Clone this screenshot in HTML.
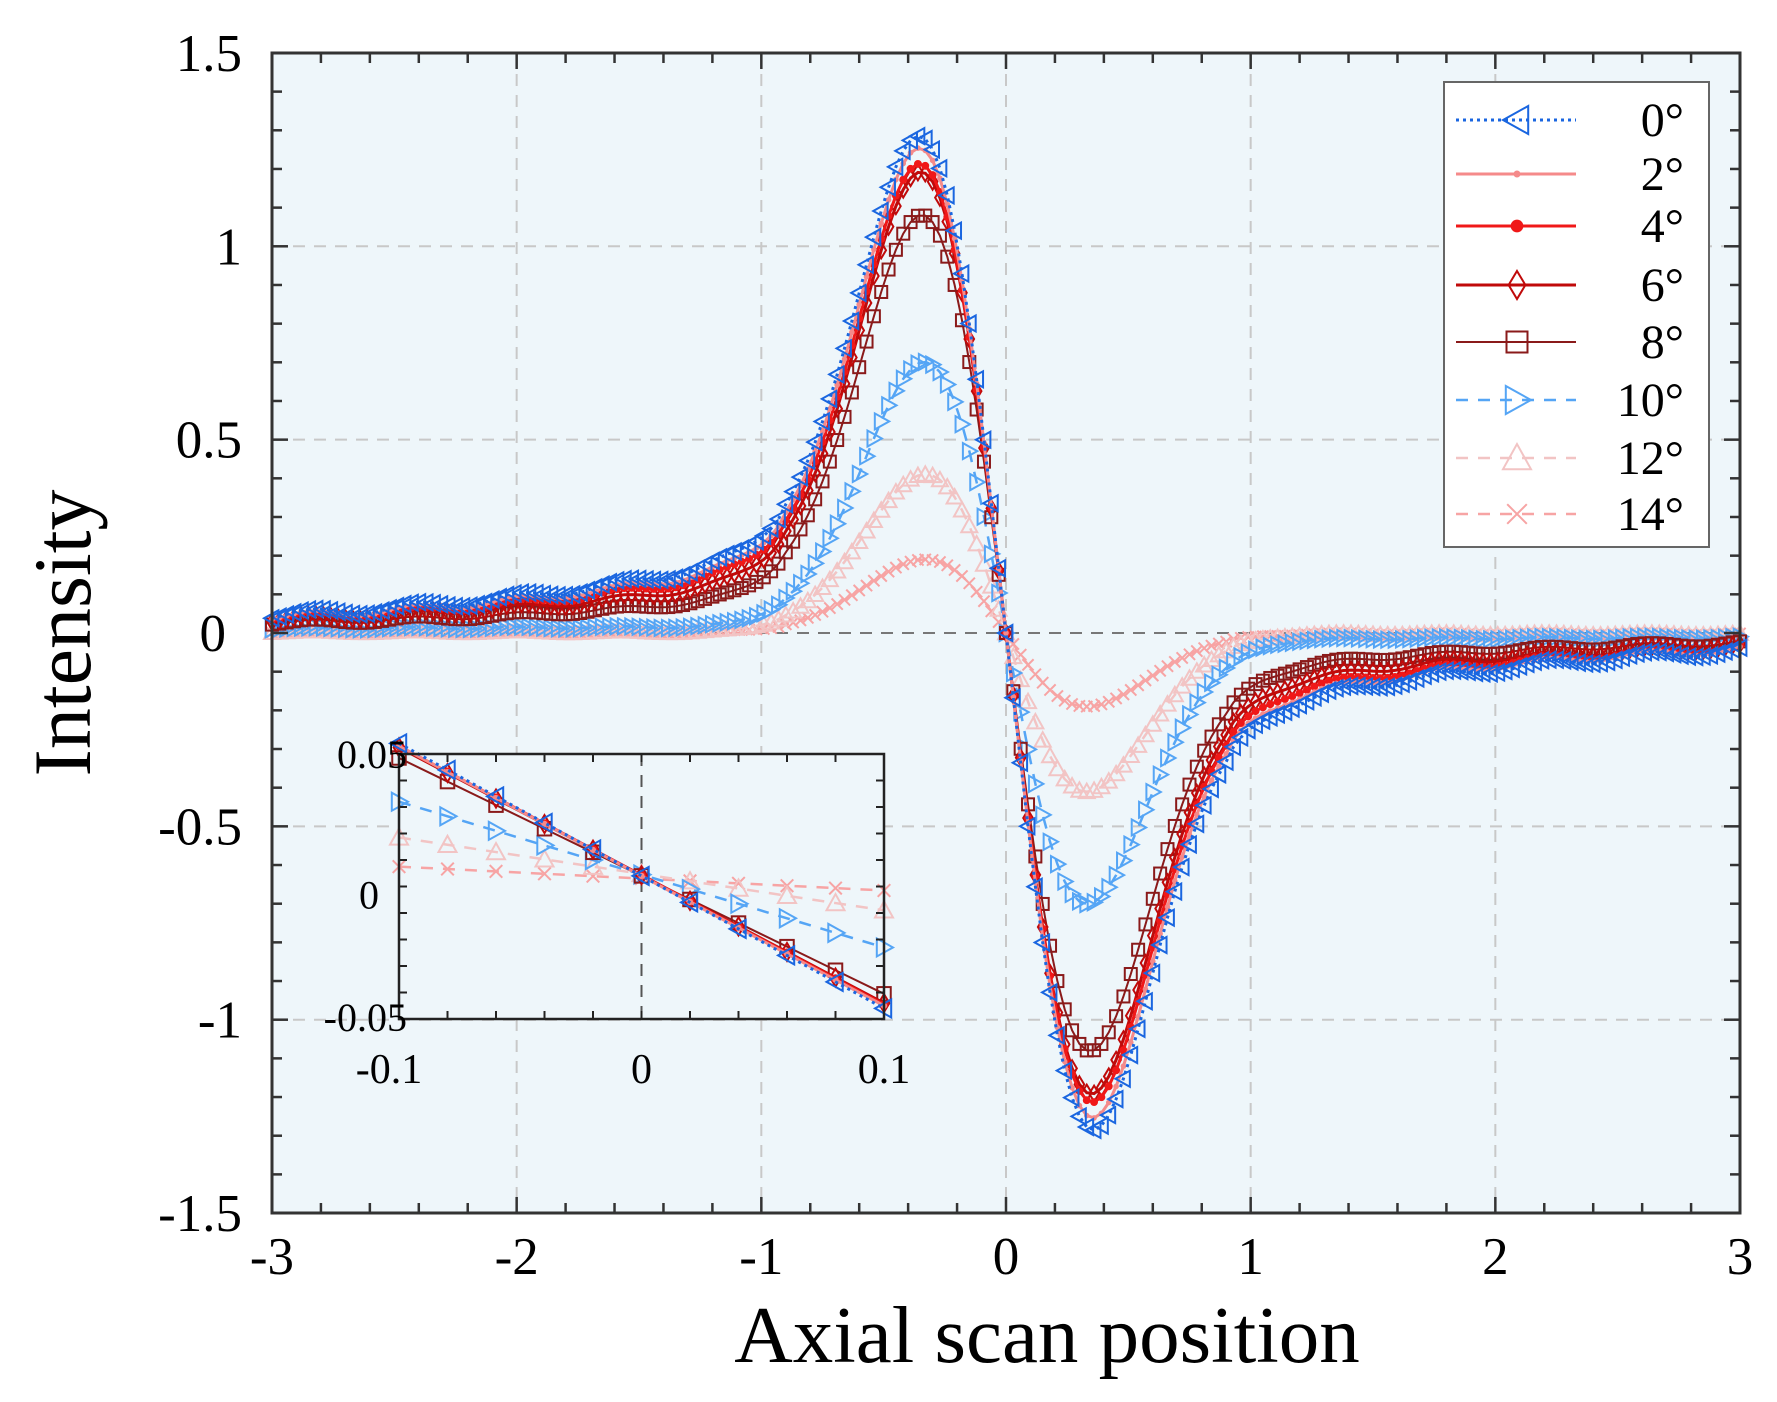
<!DOCTYPE html>
<html><head><meta charset="utf-8">
<style>
html,body{margin:0;padding:0;background:#fff;}
svg{display:block;font-family:"Liberation Serif",serif;}
</style></head>
<body>
<svg id="s" width="1777" height="1402" viewBox="0 0 1777 1402" xmlns="http://www.w3.org/2000/svg"></svg>
<script>
const S=document.getElementById('s');
let out=[];
const L=272,R=1740,T=53,B=1213;
const X=x=>1006+x*244.67, Y=y=>633-y*386.7;
out.push(`<rect x="${L}" y="${T}" width="${R-L}" height="${B-T}" fill="#eef6fa"/>`);
for(let gx=-2;gx<=2;gx++){out.push(`<line x1="${X(gx)}" y1="${T}" x2="${X(gx)}" y2="${B}" stroke="#c8c8c8" stroke-width="2" stroke-dasharray="12,9"/>`);}
for(const gy of [1,0.5,-0.5,-1]){out.push(`<line x1="${L}" y1="${Y(gy)}" x2="${R}" y2="${Y(gy)}" stroke="#c8c8c8" stroke-width="2" stroke-dasharray="12,9"/>`);}
out.push(`<line x1="${L}" y1="${Y(0)}" x2="${R}" y2="${Y(0)}" stroke="#777" stroke-width="2" stroke-dasharray="12,9"/>`);
const ser=[
 {P:1.29,c:0.44,col:"#1a66e0",m:"tl",dash:"3,4",w:3},
 {P:1.26,c:0.40,col:"#f58a8a",m:"star",dash:"",w:3},
 {P:1.22,c:0.36,col:"#f01818",m:"dot",dash:"",w:3},
 {P:1.20,c:0.30,col:"#c00a0a",m:"dia",dash:"",w:3},
 {P:1.09,c:0.20,col:"#8a1a1a",m:"sq",dash:"",w:2},
 {P:0.71,c:0.02,col:"#55a5f5",m:"tr",dash:"12,10",w:2.5},
 {P:0.41,c:0.0,col:"#f2c4c4",m:"tu",dash:"12,10",w:2.5},
 {P:0.19,c:0.0,col:"#f7a4a4",m:"x",dash:"12,10",w:2.5},
];
ser.forEach(p=>{p.Pe=p.P-0.4*p.c-(p.c>0?0.01:0);});
const s0=0.33;
function f(p,x){
 let main=p.Pe*(-x/s0)*Math.exp(0.5-x*x/(2*s0*s0));
 let sh=-Math.sign(x)*p.c*Math.exp(-Math.abs(x)/1.2)*(1-Math.exp(-x*x/0.15));
 let rip=0.008*(p.c/0.44+0.3)*Math.sin(2*Math.PI*x/0.42)*(Math.abs(x)>0.9?1:0);
 let off=0.02*(1-Math.exp(-x*x));
 return main+sh+rip+(x<0?off*0.5:-off*0.5)*(p.c>0?1:0.3);
}
function marker(m,x,y,col,sz){
 const s=sz;
 switch(m){
  case"tl":return `<polygon points="${x-s},${y} ${x+s*0.8},${y-s} ${x+s*0.8},${y+s}" fill="none" stroke="${col}" stroke-width="2"/>`;
  case"tr":return `<polygon points="${x+s},${y} ${x-s*0.8},${y-s} ${x-s*0.8},${y+s}" fill="none" stroke="${col}" stroke-width="2"/>`;
  case"tu":return `<polygon points="${x},${y-s} ${x-s},${y+s*0.8} ${x+s},${y+s*0.8}" fill="none" stroke="${col}" stroke-width="2"/>`;
  case"star":return `<circle cx="${x}" cy="${y}" r="${s*0.35}" fill="${col}"/>`;
  case"dot":return `<circle cx="${x}" cy="${y}" r="${s*0.4}" fill="${col}" stroke="${col}" stroke-width="1.5"/>`;
  case"dia":return `<polygon points="${x},${y-s} ${x+s*0.6},${y} ${x},${y+s} ${x-s*0.6},${y}" fill="none" stroke="${col}" stroke-width="2"/>`;
  case"sq":return `<rect x="${x-s*0.75}" y="${y-s*0.75}" width="${s*1.5}" height="${s*1.5}" fill="none" stroke="${col}" stroke-width="2"/>`;
  case"x":return `<path d="M${x-s*0.7},${y-s*0.7}L${x+s*0.7},${y+s*0.7}M${x-s*0.7},${y+s*0.7}L${x+s*0.7},${y-s*0.7}" stroke="${col}" stroke-width="2"/>`;
 }
}
for(let i=ser.length-1;i>=0;i--){
 const p=ser[i];let pts=[];let mk=[];
 for(let k=0;k<=200;k++){const x=-3+k*0.03;const y=f(p,x);pts.push(`${X(x).toFixed(1)},${Y(y).toFixed(1)}`);mk.push(marker(p.m,X(x),Y(y),p.col,8));}
 out.push(`<polyline points="${pts.join(' ')}" fill="none" stroke="${p.col}" stroke-width="${p.w}" ${p.dash?`stroke-dasharray="${p.dash}"`:''}/>`);
 out.push(mk.join(''));
}
out.push(`<rect x="${L}" y="${T}" width="${R-L}" height="${B-T}" fill="none" stroke="#333" stroke-width="3"/>`);
for(let k=-15;k<=15;k++){const x=X(k*0.2);const len=(k%5==0)?16:10;
 out.push(`<line x1="${x}" y1="${B}" x2="${x}" y2="${B-len}" stroke="#333" stroke-width="2.5"/><line x1="${x}" y1="${T}" x2="${x}" y2="${T+len}" stroke="#333" stroke-width="2.5"/>`);}
for(let k=-15;k<=15;k++){const y=Y(k*0.1);const len=(k%5==0)?16:10;
 out.push(`<line x1="${L}" y1="${y}" x2="${L+len}" y2="${y}" stroke="#333" stroke-width="2.5"/><line x1="${R}" y1="${y}" x2="${R-len}" y2="${y}" stroke="#333" stroke-width="2.5"/>`);}
for(let k=-3;k<=3;k++){out.push(`<text x="${X(k)}" y="1274" font-size="53" text-anchor="middle">${k}</text>`);}
const yl=[[1.5,"1.5"],[1,"1"],[0.5,"0.5"],[0,"0"],[-0.5,"-0.5"],[-1,"-1"],[-1.5,"-1.5"]];
for(const [v,t] of yl){out.push(`<text x="${v==0?226:242}" y="${Y(v)+18}" font-size="53" text-anchor="end">${t}</text>`);}
out.push(`<text x="1047" y="1362" font-size="81" text-anchor="middle">Axial scan position</text>`);
out.push(`<text transform="translate(90,633) rotate(-90)" font-size="82" text-anchor="middle">Intensity</text>`);
const IL=399,IR=884,IT=754,IB=1019;
const IX=x=>IL+(x+0.1)/0.2*(IR-IL), IY=y=>IT+(0.05-y)/0.1*(IB-IT);
out.push(`<rect x="${IL}" y="${IT}" width="${IR-IL}" height="${IB-IT}" fill="#eef6fa"/>`);
out.push(`<line x1="${IX(0)}" y1="${IT}" x2="${IX(0)}" y2="${IB}" stroke="#555" stroke-width="2" stroke-dasharray="12,9"/>`);
const ins=[[0.05,-0.05],[0.049,-0.049],[0.049,-0.0485],[0.0485,-0.048],[0.0445,-0.0445],[0.028,-0.027],[0.0145,-0.013],[0.0035,-0.0055]];
for(let i=ins.length-1;i>=0;i--){const p=ser[i];const [a,b]=ins[i];let pts=[],mk=[];
 for(let k=0;k<=10;k++){const x=-0.1+k*0.02;const t=k/10;const y=a+(b-a)*t+0.004;pts.push(`${IX(x)},${IY(y)}`);mk.push(marker(p.m,IX(x),IY(y),p.col,9));}
 out.push(`<polyline points="${pts.join(' ')}" fill="none" stroke="${p.col}" stroke-width="${p.w}" ${p.dash?`stroke-dasharray="${p.dash}"`:''}/>`+mk.join(''));}
out.push(`<rect x="${IL}" y="${IT}" width="${IR-IL}" height="${IB-IT}" fill="none" stroke="#222" stroke-width="2.5"/>`);
for(let k=0;k<=10;k++){const x=IX(-0.1+k*0.02);out.push(`<line x1="${x}" y1="${IB}" x2="${x}" y2="${IB-8}" stroke="#222" stroke-width="2"/><line x1="${x}" y1="${IT}" x2="${x}" y2="${IT+8}" stroke="#222" stroke-width="2"/>`);}
for(let k=0;k<=10;k++){const y=IY(-0.05+k*0.01);out.push(`<line x1="${IL}" y1="${y}" x2="${IL+8}" y2="${y}" stroke="#222" stroke-width="2"/><line x1="${IR}" y1="${y}" x2="${IR-8}" y2="${y}" stroke="#222" stroke-width="2"/>`);}
out.push(`<text x="${IX(-0.1)-10}" y="1083" font-size="42" text-anchor="middle">-0.1</text><text x="${IX(0)}" y="1083" font-size="42" text-anchor="middle">0</text><text x="${IX(0.1)}" y="1083" font-size="42" text-anchor="middle">0.1</text>`);
out.push(`<text x="${IL+8}" y="${IT+14}" font-size="40" text-anchor="end">0.05</text><text x="${IL-20}" y="${IY(0)+22}" font-size="40" text-anchor="end">0</text><text x="${IL+8}" y="${IB+12}" font-size="40" text-anchor="end">-0.05</text>`);
out.push(`<rect x="1444" y="82" width="265" height="465" fill="#fff" stroke="#666" stroke-width="2"/>`);
const ly=[120,174,226,285,342,400,458,514];const lab=["0°","2°","4°","6°","8°","10°","12°","14°"];
for(let i=0;i<8;i++){const p=ser[i];const y=ly[i];
 out.push(`<line x1="1456" y1="${y}" x2="1576" y2="${y}" stroke="${p.col}" stroke-width="${p.w}" ${p.dash?`stroke-dasharray="${p.dash}"`:''}/>`);
 out.push(marker(p.m,1517,y,p.col,p.m=="star"?10:14));
 out.push(`<text x="1684" y="${y+16}" font-size="48" text-anchor="end">${lab[i]}</text>`);}
S.innerHTML=out.join('');
</script>
</body></html>
